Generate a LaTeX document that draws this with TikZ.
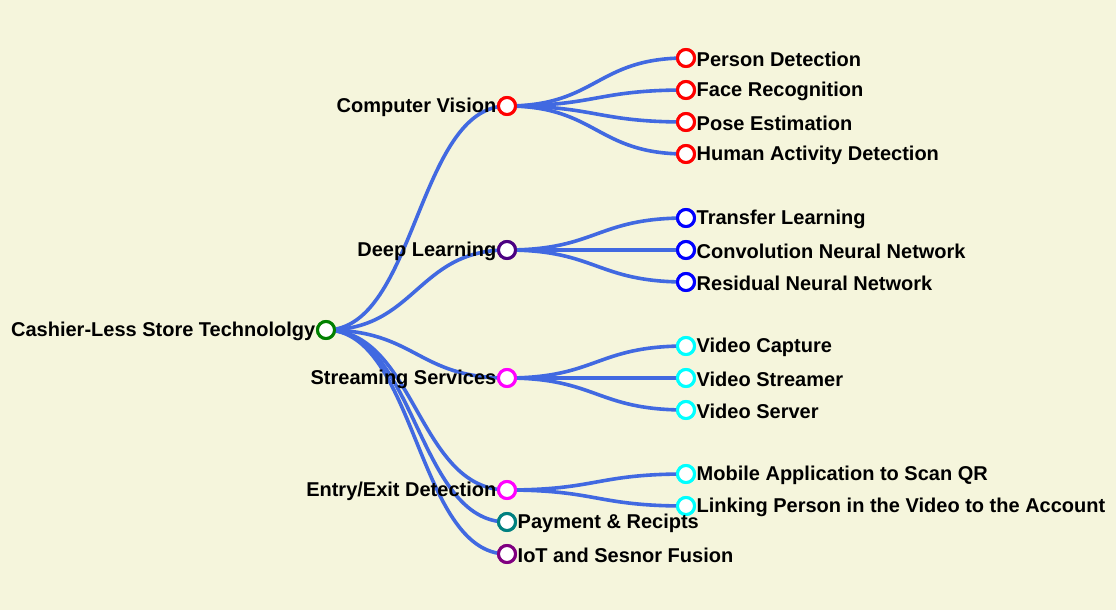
\documentclass[tikz,border=0pt]{standalone}
\usepackage{fontspec}
\setmainfont{Liberation Sans}
\usetikzlibrary{positioning}
\definecolor{beige}{HTML}{F5F5DC}
\definecolor{linkblue}{HTML}{4169E1}
\definecolor{indigo}{HTML}{4B0082}
\definecolor{tealc}{HTML}{008080}
\definecolor{purp}{HTML}{800080}
\definecolor{magc}{HTML}{FF00FF}
\definecolor{cyanc}{HTML}{00FFFF}
\definecolor{redc}{HTML}{FF0000}
\definecolor{bluec}{HTML}{0000FF}
\definecolor{greenc}{HTML}{008000}
\begin{document}
\begin{tikzpicture}[
x=1pt, y=-1pt,
dot/.style={
  draw,
  circle,
  fill=white,
  line width=3pt,
  minimum size=17pt,
  inner sep=0pt
  },
lbl/.style={
  font=\bfseries\fontsize{20}{22}\selectfont,
  inner sep=0.5pt,
  yshift=-1.5pt
  },
link/.style={
  draw=linkblue,
  line width=3.6pt
  }
]
\fill[beige] (0,0) rectangle (1116,610);
\useasboundingbox (0,0) rectangle (1116,610);
% nodes
\node[dot, draw=greenc] (root) at (326,330) {};
\node[dot, draw=redc] (cv) at (507,106) {};
\node[dot, draw=indigo] (dl) at (507,250) {};
\node[dot, draw=magc] (ss) at (507,378) {};
\node[dot, draw=magc] (ee) at (507,490) {};
\node[dot, draw=tealc] (pay) at (507,522) {};
\node[dot, draw=purp] (iot) at (507,554) {};
\foreach \n/\y/\c in {pd/58/redc, fr/90/redc, pe/122/redc, ha/154/redc,
  tl/218/bluec, cn/250/bluec, rn/282/bluec,
  vc/346/cyanc, vs/378/cyanc, vv/410/cyanc,
  mq/474/cyanc, lp/506/cyanc}
  \node[dot, draw=\c] (\n) at (686,\y) {};
% links
\foreach \a/\b in {root/cv, root/dl, root/ss, root/ee, root/pay, root/iot,
  cv/pd, cv/fr, cv/pe, cv/ha, dl/tl, dl/cn, dl/rn,
  ss/vc, ss/vs, ss/vv, ee/mq, ee/lp}
  \draw[link] (\a.center) .. controls +(90,0) and +(-90,0) .. (\b.center);
% redraw dots on top
\foreach \n/\c in {root/greenc, cv/redc, dl/indigo, ss/magc, ee/magc,
  pay/tealc, iot/purp, pd/redc, fr/redc, pe/redc, ha/redc, tl/bluec, cn/bluec, rn/bluec,
  vc/cyanc, vs/cyanc, vv/cyanc, mq/cyanc, lp/cyanc}
  \node[dot, draw=\c] at (\n) {};
% labels
\node[lbl, left=0pt of root] {Cashier-Less Store Technololgy};
\node[lbl, left=0pt of cv] {Computer Vision};
\node[lbl, left=0pt of dl] {Deep Learning};
\node[lbl, left=0pt of ss] {Streaming Services};
\node[lbl, left=0pt of ee] {Entry/Exit Detection};
\node[lbl, right=0pt of pay] {Payment \& Recipts};
\node[lbl, right=0pt of iot] {IoT and Sesnor Fusion};
\foreach \n/\t in {pd/Person Detection, fr/Face Recognition, pe/Pose Estimation,
  ha/Human Activity Detection, tl/Transfer Learning, cn/Convolution Neural Network,
  rn/Residual Neural Network, vc/Video Capture, vs/Video Streamer, vv/Video Server,
  mq/Mobile Application to Scan QR, lp/Linking Person in the Video to the Account}
  \node[lbl, right=0pt of \n] {\t};
\end{tikzpicture}
\end{document}
